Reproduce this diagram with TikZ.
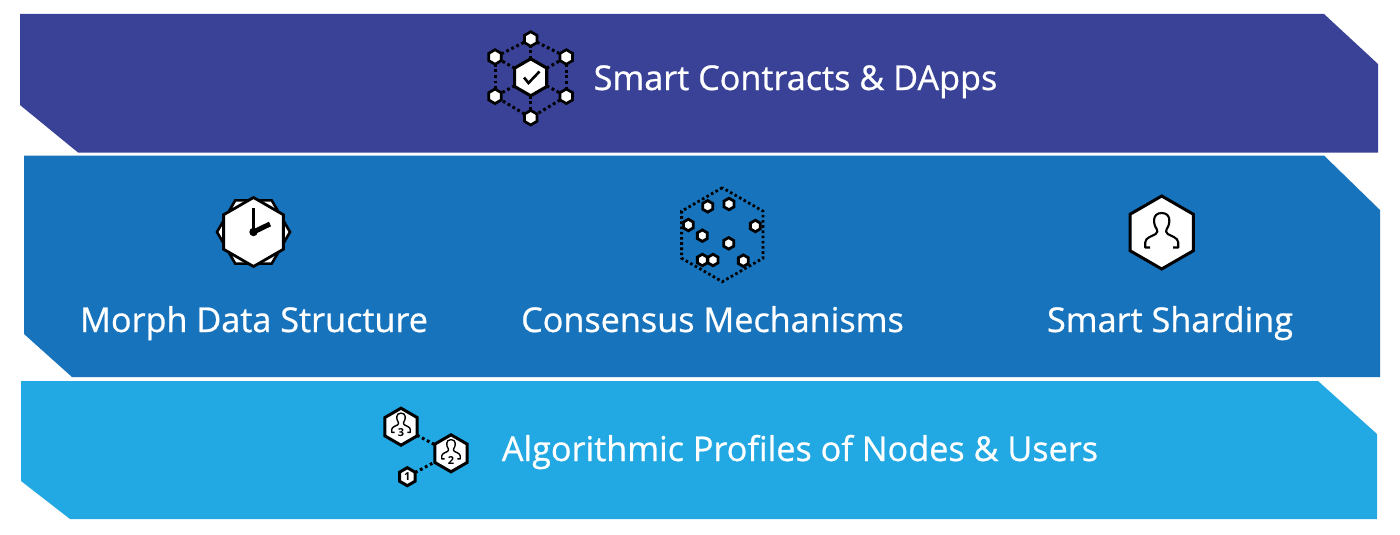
\documentclass[tikz,border=0pt]{standalone}
\usepackage{fontspec}
\setmainfont{Open Sans}
\newfontfamily\labelfont[FakeBold=0.7]{Open Sans}
\usetikzlibrary{shapes.geometric}
\definecolor{bandA}{RGB}{57,66,150}
\definecolor{bandB}{RGB}{23,115,187}
\definecolor{bandC}{RGB}{34,168,226}
\definecolor{inkk}{RGB}{0,0,0}
\tikzset{
  hexnode/.style={regular polygon,regular polygon sides=6,shape border rotate=30,draw=inkk,fill=white,inner sep=0pt,outer sep=0pt,line join=miter},
  hexdia/.style={hexnode,minimum size=#1},
  dotlink/.style={draw=inkk,line width=3pt,dash pattern=on 2.8pt off 2.8pt},
  label/.style={text=white,font=\labelfont\fontsize{34.2}{38}\selectfont,anchor=base,inner sep=0pt},
  digit/.style={inner sep=0pt,font=\bfseries\fontsize{11}{12}\selectfont},
  bandshape/.style={draw=none},
  personline/.style={draw=inkk,line join=round,line cap=butt}
}
\newcommand{\personglyph}[4]{%
  \begin{scope}[shift={(#1,#2)},scale=#3]
  \draw[personline,line width=#4] (-11.5,15) -- (-16.5,15) -- (-16.5,10)
    .. controls (-16.5,5) and (-9,3.5) .. (-6,1.5)
    .. controls (-4,0) and (-4,-2) .. (-5,-3.5)
    .. controls (-8.5,-8) and (-10,-19.5) .. (0,-19.5)
    .. controls (10,-19.5) and (8.5,-8) .. (5,-3.5)
    .. controls (4,-2) and (4,0) .. (6,1.5)
    .. controls (9,3.5) and (16.5,5) .. (16.5,10)
    -- (16.5,15) -- (11.5,15);
  \end{scope}}
\begin{document}
\begin{tikzpicture}[x=1pt,y=-1pt]
\useasboundingbox (0,0) rectangle (1400,535);
\fill[white] (0,0) rectangle (1400,535);
% bands
\fill[bandA,bandshape] (20,14) -- (1324,14) -- (1378,64) -- (1378,152.5) -- (78,152.5) -- (20,105) -- cycle;
\fill[bandB,bandshape] (24,155.5) -- (1324,155.5) -- (1380,210) -- (1380,377) -- (72,377) -- (24,334) -- cycle;
\fill[bandC,bandshape] (21,381) -- (1318,381) -- (1377,434) -- (1377,519) -- (70,519) -- (21,481) -- cycle;
% labels
\node[label] (t1) at (795.5,90) {Smart Contracts \& DApps};
\node[label] (t2) at (254,332) {Morph Data Structure};
\node[label] (t3) at (712.5,332) {Consensus Mechanisms};
\node[label] (t4) at (1170,332) {Smart Sharding};
\node[label] (t5) at (800,461) {Algorithmic Profiles of Nodes \& Users};
% contracts icon
\node[hexdia=37pt,line width=3.1pt] (hub) at (530.7,77.3) {};
\node[hexdia=14.5pt,line width=2.7pt] (a1) at (530.7,39) {};
\node[hexdia=14.5pt,line width=2.7pt] (a2) at (566.3,57) {};
\node[hexdia=14.5pt,line width=2.7pt] (a3) at (566.3,96.3) {};
\node[hexdia=14.5pt,line width=2.7pt] (a4) at (530.7,117.7) {};
\node[hexdia=14.5pt,line width=2.7pt] (a5) at (495,96.3) {};
\node[hexdia=14.5pt,line width=2.7pt] (a6) at (495,57) {};
\foreach \u/\v in {a1/a2,a2/a3,a3/a4,a4/a5,a5/a6,a6/a1,hub/a1,hub/a2,hub/a3,hub/a4,hub/a5,hub/a6}
  \draw[dotlink] (\u) -- (\v);
\draw[inkk,line width=2.6pt] (524,77.5) -- (528.5,83) -- (539.5,71.5);
% clock icon
\node[hexnode,minimum size=73pt,line width=2.6pt,shape border rotate=0] (clockback) at (253.5,232) {};
\node[hexdia=69pt,line width=2.8pt] (clockface) at (253.5,232) {};
\coordinate (minutehand) at (253.5,208);
\coordinate (hourhand) at (270,224);
\draw[inkk,line width=2.6pt] (clockface.center) -- (minutehand);
\draw[inkk,line width=5pt] (clockface.center) -- (hourhand);
\fill[inkk] (clockface.center) circle (4.2);
% consensus icon
\node[regular polygon,regular polygon sides=6,shape border rotate=30,draw=inkk,fill=none,minimum size=94pt,inner sep=0pt,outer sep=0pt,line width=2.8pt,dash pattern=on 2.6pt off 2.6pt] (field) at (722.3,234.7) {};
\foreach \n/\zx/\zy in {p1/128/94,p2/192/87,p3/70/150,p4/271/153,p5/112/182,p6/191/205,p7/112/255,p8/144/255,p9/235/257}
  \node[hexdia=11.5pt,line width=2.8pt] (\n) at ({665+\zx/3},{175+\zy/3}) {};
% sharding icon
\node[hexdia=73pt,line width=3pt] (shard) at (1161.7,232.5) {};
\personglyph{1161.7}{232.5}{1}{2.1pt}
% profiles icon
\node[hexdia=37pt,line width=3pt] (u3) at (401,426.7) {};
\node[hexdia=37pt,line width=3pt] (u2) at (451,453.3) {};
\node[hexdia=18pt,line width=3pt] (u1) at (407.3,476.7) {};
\draw[dotlink] (u3) -- (u2);
\draw[dotlink] (u1) -- (u2);
\personglyph{401}{424}{0.56}{1.4pt}
\personglyph{451}{450.5}{0.56}{1.4pt}
\node[digit] (n3) at (401,432.5) {3};
\node[digit] (n2) at (451,461) {2};
\node[digit] (n1) at (407.3,476.7) {1};
\end{tikzpicture}
\end{document}
